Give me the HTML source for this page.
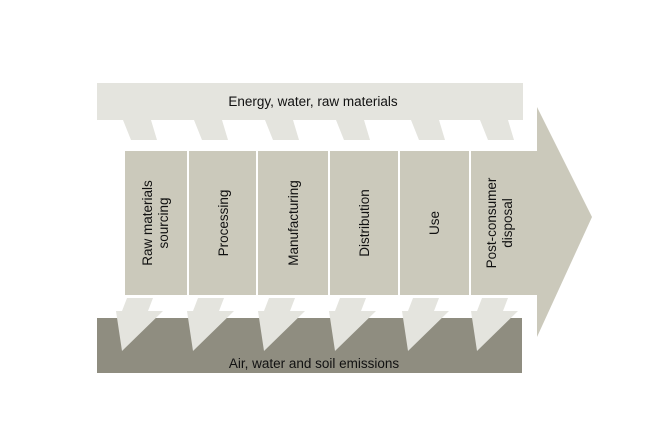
<!DOCTYPE html>
<html><head><style>
body{margin:0;background:#fff;}
svg{display:block}
text{font-family:"Liberation Sans",sans-serif;font-size:13.5px;fill:#111}
</style></head><body>
<svg width="670" height="446" viewBox="0 0 670 446">
<rect x="97" y="83" width="426" height="37" fill="#e4e4de"/>
<text x="313" y="106" text-anchor="middle">Energy, water, raw materials</text>
<g fill="#e4e4de">
<polygon points="123,120 151,120 157,140 131,140"/>
<polygon points="194,120 222,120 228,140 202,140"/>
<polygon points="265,120 293,120 299,140 273,140"/>
<polygon points="336,120 364,120 370,140 344,140"/>
<polygon points="411,120 439,120 445,140 419,140"/>
<polygon points="480,120 508,120 514,140 488,140"/>
</g>
<polygon points="125,151 537,151 537,107 592,217 537,337 537,295 125,295" fill="#cbc9bb"/>
<g fill="#fff">
<rect x="187" y="151" width="2" height="144"/>
<rect x="256" y="151" width="2" height="144"/>
<rect x="328" y="151" width="2" height="144"/>
<rect x="398" y="151" width="2" height="144"/>
<rect x="469" y="151" width="2" height="144"/>
</g>
<g fill="#111">
<text transform="translate(152,223) rotate(-90)" text-anchor="middle">Raw materials</text>
<text transform="translate(168,223) rotate(-90)" text-anchor="middle">sourcing</text>
<text transform="translate(228,223) rotate(-90)" text-anchor="middle">Processing</text>
<text transform="translate(298,223) rotate(-90)" text-anchor="middle">Manufacturing</text>
<text transform="translate(369,223) rotate(-90)" text-anchor="middle">Distribution</text>
<text transform="translate(439,223) rotate(-90)" text-anchor="middle">Use</text>
<text transform="translate(496,223) rotate(-90)" text-anchor="middle">Post-consumer</text>
<text transform="translate(512,223) rotate(-90)" text-anchor="middle">disposal</text>
</g>
<rect x="97" y="318" width="425" height="55" fill="#8f8d80"/>
<g fill="#e4e4de">
<polygon points="127,298 153,298 148,311 163,311 122,351 116,311 122,311"/>
<polygon points="198,298 224,298 219,311 234,311 193,351 187,311 193,311"/>
<polygon points="269,298 295,298 290,311 305,311 264,351 258,311 264,311"/>
<polygon points="340,298 366,298 361,311 376,311 335,351 329,311 335,311"/>
<polygon points="413,298 439,298 434,311 449,311 408,351 402,311 408,311"/>
<polygon points="482,298 508,298 503,311 518,311 477,351 471,311 477,311"/>
</g>
<text x="314" y="368" text-anchor="middle">Air, water and soil emissions</text>
</svg>
</body></html>
